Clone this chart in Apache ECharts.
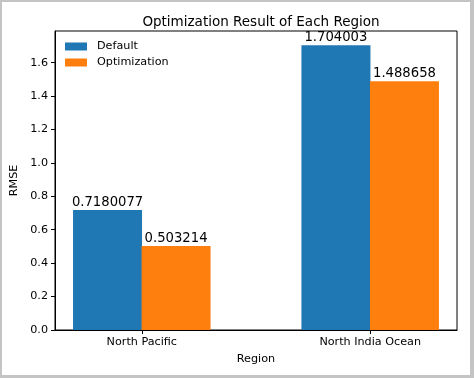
<!DOCTYPE html>
<html>
<head>
<meta charset="utf-8">
<script src="https://cdn.jsdelivr.net/npm/echarts@6/dist/echarts.min.js"></script>
<style>
  html, body { margin: 0; padding: 0; background: #fff; }
  #wrap { position: relative; width: 474px; height: 378px; }
  #chart { position: absolute; left: 0; top: 0; width: 474px; height: 378px; }
  #frame { position: absolute; left: 0; top: 0; width: 474px; height: 378px; box-sizing: border-box;
           border-style: solid; border-color: #c4c4c4; border-width: 2px 4px 3px 2px; pointer-events: none; }
</style>
</head>
<body>
<div id="wrap">
  <div id="chart"></div>
  <div id="frame"></div>
</div>
<script>
// data
const regions = ['North Pacific', 'North India Ocean']
const defaultRmse = [0.7180077, 1.704003]
const optimizedRmse = [0.503214, 1.488658]
const yTicks = [0, 0.2, 0.4, 0.6, 0.8, 1.0, 1.2, 1.4, 1.6]

const font = 'DejaVu Sans'
const barOffset = 0.15 // half of the bar width, in axis units

const chart = echarts.init(document.getElementById('chart'))

function toPoints(values, shift) {
  return values.map((v, i) => [i + shift, v])
}

const barLabel = {
  show: true,
  position: 'top',
  distance: 1,
  color: '#000',
  fontFamily: font,
  fontSize: 13.2,
  formatter: p => String(p.value[1])
}

chart.setOption({
  animation: false,
  title: {
    text: 'Optimization Result of Each Region',
    left: 256,
    top: 10,
    textAlign: 'center',
    textStyle: { fontFamily: font, fontSize: 13.5, fontWeight: 'normal', color: '#000' }
  },
  legend: {
    data: ['Default', 'Optimization'],
    orient: 'vertical',
    left: 60,
    top: 36,
    itemWidth: 22,
    itemHeight: 8,
    itemGap: 5,
    icon: 'rect',
    textStyle: { fontFamily: font, fontSize: 11.2, color: '#000', padding: [0, 0, 0, 5] }
  },
  grid: {
    left: 55,
    right: 17,
    top: 31,
    bottom: 48,
    show: true,
    borderColor: '#000',
    borderWidth: 1
  },
  xAxis: {
    type: 'value',
    min: -0.38,
    max: 1.38,
    name: 'Region',
    nameLocation: 'middle',
    nameGap: 24,
    nameTextStyle: { fontFamily: font, fontSize: 11.2, color: '#000' },
    splitLine: { show: false },
    axisLine: { show: true, onZero: false, lineStyle: { color: '#000' } },
    axisTick: { show: true, length: 4, customValues: [0, 1], lineStyle: { color: '#000' } },
    axisLabel: {
      customValues: [0, 1],
      margin: 7,
      fontFamily: font, fontSize: 11.2, color: '#000',
      formatter: v => regions[Math.round(v)]
    }
  },
  yAxis: {
    type: 'value',
    min: 0,
    max: 1.789,
    name: 'RMSE',
    nameLocation: 'middle',
    nameGap: 31,
    nameTextStyle: { fontFamily: font, fontSize: 11.2, color: '#000' },
    splitLine: { show: false },
    axisLine: { show: true, onZero: false, lineStyle: { color: '#000' } },
    axisTick: { show: true, length: 4, customValues: yTicks, lineStyle: { color: '#000' } },
    axisLabel: {
      customValues: yTicks,
      margin: 7,
      fontFamily: font, fontSize: 11.2, color: '#000',
      formatter: v => v.toFixed(1)
    }
  },
  series: [
    {
      name: 'Default',
      type: 'bar',
      barWidth: 69,
      barGap: '-100%',
      itemStyle: { color: '#1f77b4' },
      label: barLabel,
      data: toPoints(defaultRmse, -barOffset)
    },
    {
      name: 'Optimization',
      type: 'bar',
      barWidth: 69,
      barGap: '-100%',
      itemStyle: { color: '#ff7f0e' },
      label: barLabel,
      data: toPoints(optimizedRmse, barOffset)
    }
  ]
})
</script>
</body>
</html>
